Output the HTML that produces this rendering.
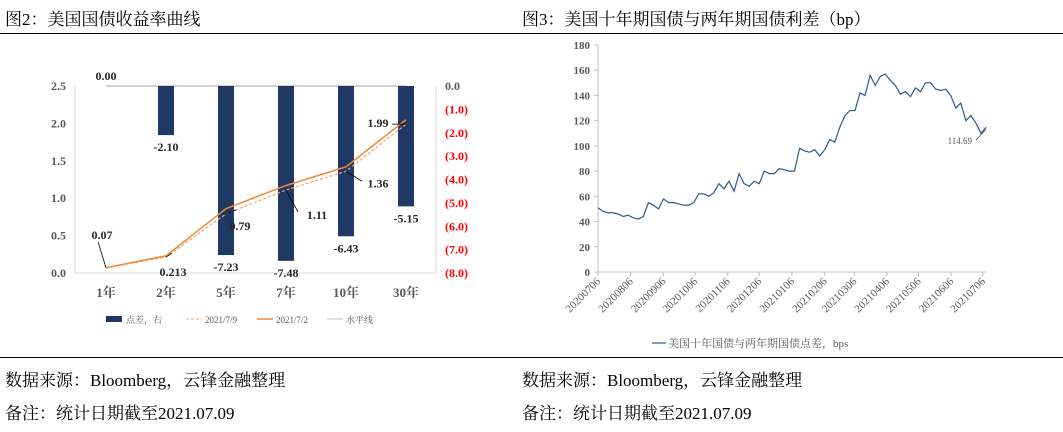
<!DOCTYPE html>
<html><head><meta charset="utf-8">
<style>
body{margin:0;width:1063px;height:432px;background:#fff;position:relative;overflow:hidden;font-family:"Liberation Serif","Noto Serif CJK SC",serif;}
.t{position:absolute;font-size:17px;color:#000;white-space:nowrap}
.hr{position:absolute;left:0;width:1063px;height:1px;background:#000}
svg{position:absolute;left:0;top:0}
svg text{font-family:"Liberation Serif","Noto Serif CJK SC",serif}
</style></head><body>
<div class="t" style="left:5px;top:5px">图2：美国国债收益率曲线</div>
<div class="t" style="left:522px;top:5px">图3：美国十年期国债与两年期国债利差（bp）</div>
<div class="hr" style="top:33px"></div>
<div class="hr" style="top:357px"></div>
<div class="t" style="left:5px;top:366px">数据来源：Bloomberg，云锋金融整理</div>
<div class="t" style="left:5px;top:399px">备注：统计日期截至2021.07.09</div>
<div class="t" style="left:522px;top:366px">数据来源：Bloomberg，云锋金融整理</div>
<div class="t" style="left:522px;top:399px">备注：统计日期截至2021.07.09</div>
<svg id="c1" width="1063" height="432"></svg>
<svg id="c2" width="1063" height="432"></svg>
<script>
const cats=["1年","2年","5年","7年","10年","30年"];
const spread=[0.00,-2.10,-7.23,-7.48,-6.43,-5.15];
const y0709=[0.07,0.213,0.79,1.11,1.36,1.99];
const y0702=[0.07,0.23,0.86,1.17,1.42,2.05];
const leftTicks=[0,0.5,1.0,1.5,2.0,2.5];
const rightTicks=[0,-1,-2,-3,-4,-5,-6,-7,-8];
const spLabels=["0.00","-2.10","-7.23","-7.48","-6.43","-5.15"];
const ylLabels=["0.07","0.213","0.79","1.11","1.36","1.99"];

const spVals=[51,48,47,47,46,44,45,43,42,44,55,53,50,58,55,55,54,53,53,55,62,62,60,63,70,66,72,64,78,70,68,72,70,80,78,78,82,81,80,80,98,96,95,97,92,97,105,103,115,124,128,128,142,140,156,148,155,157,152,148,141,143,139,146,143,150,150,145,144,145,140,130,134,120,124,118,110,114.69];
const spTicks=[0,20,40,60,80,100,120,140,160,180];
const dateLabels=["20200706","20200806","20200906","20201006","20201106","20201206","20210106","20210206","20210306","20210406","20210506","20210606","20210706"];
const dateDays=[0,31,62,92,123,153,184,215,243,274,304,335,365];

const NS="http://www.w3.org/2000/svg";
function mk(svg,tag,attrs,txt){const e=document.createElementNS(NS,tag);for(const k in attrs)e.setAttribute(k,attrs[k]);if(txt!==undefined)e.textContent=txt;svg.appendChild(e);return e;}

const s1=document.getElementById('c1');
const X=i=>76+60*i+30, YL=v=>273-v*(187/2.5);
function yr(v){return 86+(-v)*(187/8);}
let e;
e=mk(s1,'line',{x1:75,y1:86,x2:75,y2:273,stroke:'#d9d9d9'});

e=mk(s1,'line',{x1:436,y1:86,x2:436,y2:273,stroke:'#d9d9d9'});

e=mk(s1,'line',{x1:75,y1:273,x2:436,y2:273,stroke:'#d9d9d9'});

e=mk(s1,'line',{x1:106,y1:86,x2:406,y2:86,stroke:'#bfbfbf','stroke-width':1.5});

leftTicks.forEach(v=>{e=mk(s1,'text',{x:66,y:YL(v)+4,'text-anchor':'end','font-size':12,'font-weight':'bold',fill:'#595959'},v.toFixed(1));
});
rightTicks.forEach(v=>{e=mk(s1,'text',{x:445,y:yr(v)+4,'font-size':12,'font-weight':'bold',fill:v===0?'#595959':'#ff0000'},v===0?'0.0':'('+(-v).toFixed(1)+')');
});
cats.forEach((c,i)=>{e=mk(s1,'text',{x:X(i),y:297,'text-anchor':'middle','font-size':13,'font-weight':'bold',fill:'#595959'},c);
});
spread.forEach((v,i)=>{if(v!==0){e=mk(s1,'rect',{x:X(i)-8,y:86,width:16,height:yr(v)-86,fill:'#1f3864'});
}
e=mk(s1,'text',{x:X(i),y:(v===0?80:yr(v)+16),'text-anchor':'middle','font-size':12,'font-weight':'bold',fill:'#262626'},spLabels[i]);
});
e=mk(s1,'polyline',{points:y0709.map((v,i)=>X(i)+','+YL(v)).join(' '),fill:'none',stroke:'#f4a46b','stroke-width':1.2,'stroke-dasharray':'3,2'});

e=mk(s1,'polyline',{points:y0702.map((v,i)=>X(i)+','+YL(v)).join(' '),fill:'none',stroke:'#f08a3c','stroke-width':1.5});

// label offsets relative to point: [labelDx,labelDy,leaderDx,leaderDy]
const lo=[[-4,-29,-8,-26],[7,19,6,-4],[14,16,10,-4],[31,29,12,22],[32,16,16,10],[-28,3,-14,0]];
y0709.forEach((v,i)=>{const px=X(i),py=YL(v);const o=lo[i];
e=mk(s1,'line',{x1:px,y1:py,x2:px+o[2],y2:py+o[3],stroke:'#000','stroke-width':0.8});

e=mk(s1,'text',{x:px+o[0],y:py+o[1],'text-anchor':'middle','font-size':12,'font-weight':'bold',fill:'#262626'},ylLabels[i]);
});
e=mk(s1,'rect',{x:106,y:316,width:16,height:6,fill:'#1f3864'});
e=mk(s1,'text',{x:126,y:323,'font-size':9,fill:'#595959'},'点差，右');
e=mk(s1,'line',{x1:186,y1:319,x2:202,y2:319,stroke:'#f4a46b','stroke-dasharray':'3,2'});
e=mk(s1,'text',{x:205,y:323,'font-size':9,fill:'#595959'},'2021/7/9');
e=mk(s1,'line',{x1:257,y1:319,x2:273,y2:319,stroke:'#f08a3c','stroke-width':1.5});
e=mk(s1,'text',{x:276,y:323,'font-size':9,fill:'#595959'},'2021/7/2');
e=mk(s1,'line',{x1:327,y1:319,x2:343,y2:319,stroke:'#bfbfbf'});
e=mk(s1,'text',{x:346,y:323,'font-size':9,fill:'#595959'},'水平线');

const s2=document.getElementById('c2');
const X0=598,X1=986,Y0=272,Y1=45;
const XD=d=>X0+(X1-X0)*d/368, YS=v=>Y0-(Y0-Y1)*v/180;
e=mk(s2,'line',{x1:X0,y1:Y1,x2:X0,y2:Y0,stroke:'#bfbfbf'});
e=mk(s2,'line',{x1:X0,y1:Y0,x2:X1,y2:Y0,stroke:'#bfbfbf'});
spTicks.forEach(v=>{e=mk(s2,'line',{x1:X0-4,y1:YS(v),x2:X0,y2:YS(v),stroke:'#bfbfbf'});
e=mk(s2,'text',{x:X0-8,y:YS(v)+4,'text-anchor':'end','font-size':11,'font-weight':'bold',fill:'#595959'},String(v));});
dateLabels.forEach((d,i)=>{const x=XD(dateDays[i]);
e=mk(s2,'line',{x1:x,y1:Y0,x2:x,y2:Y0+4,stroke:'#bfbfbf'});
e=mk(s2,'text',{x:x+3,y:Y0+10,'text-anchor':'end','font-size':11,fill:'#595959',transform:`rotate(-45 ${x+3} ${Y0+10})`},d);});
const n=spVals.length;
e=mk(s2,'polyline',{points:spVals.map((v,i)=>XD(i*368/(n-1))+','+YS(v)).join(' '),fill:'none',stroke:'#2e5a8c','stroke-width':1.2});

const lx=XD(368),ly=YS(spVals[n-1]);
e=mk(s2,'line',{x1:lx,y1:ly+2,x2:976,y2:140,stroke:'#404040','stroke-width':0.8});
e=mk(s2,'text',{x:972,y:144,'text-anchor':'end','font-size':9,fill:'#595959'},'114.69');
e=mk(s2,'line',{x1:652,y1:343,x2:666,y2:343,stroke:'#2e5a8c','stroke-width':1.2});
e=mk(s2,'text',{x:668,y:347,'font-size':11,fill:'#595959'},'美国十年国债与两年期国债点差，bps');
</script>
</body></html>
